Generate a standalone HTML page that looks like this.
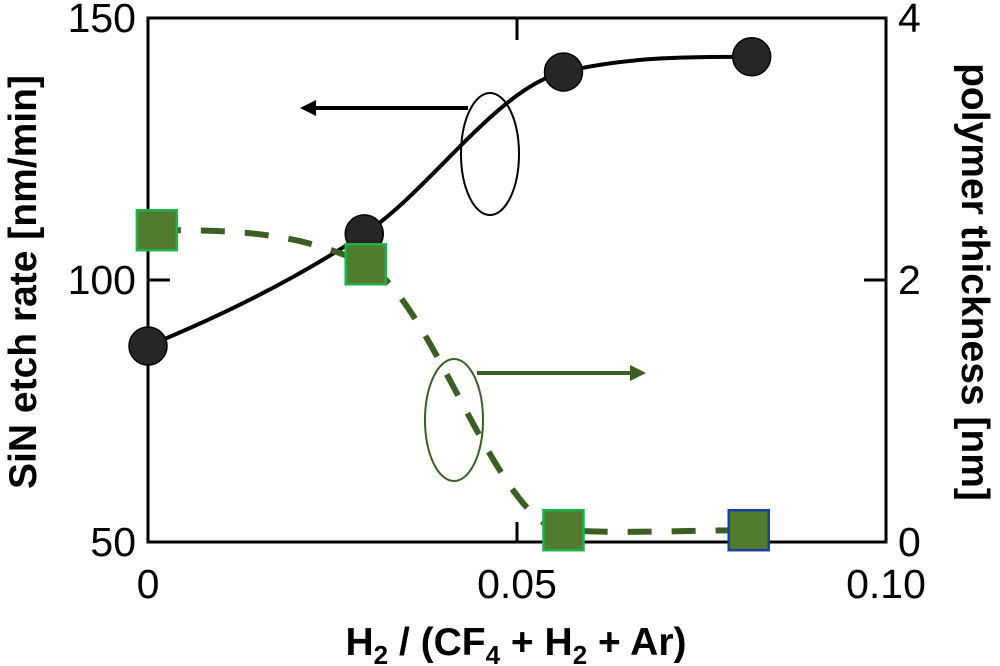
<!DOCTYPE html>
<html><head><meta charset="utf-8"><style>
body{margin:0;background:#fff}
svg{display:block;font-family:"Liberation Sans",Arial,sans-serif}
</style></head><body>
<svg id="c" width="1000" height="666" viewBox="0 0 1000 666"></svg>
<script>
const xValues=[0.0,0.0293,0.0563,0.0818];
const etchRate=[87.4,108.8,139.7,142.6];
const sqX=[0.0012,0.0295,0.0563,0.0814];
const polymer=[2.38,2.12,0.09,0.09];
const xTicks=[0,0.05,0.10];
const xTickLabels=["0","0.05","0.10"];
const yTicks=[50,100,150];
const yTickLabels=["50","100","150"];
const y2Ticks=[0,2,4];
const y2TickLabels=["0","2","4"];

const L=148,R=886,T=18,B=542;
const sx=v=>L+(v/0.1)*(R-L);
const sy=v=>B-(v-50)/100*(B-T);
const sy2=v=>B-v/4*(B-T);
const svg=document.getElementById('c');
const NS='http://www.w3.org/2000/svg';
function mk(t,a,p){const e=document.createElementNS(NS,t);for(const k in a)e.setAttribute(k,a[k]);(p||svg).appendChild(e);return e;}
function smooth(pts,startFrac){
 const n=pts.length,d=[],m=[];
 for(let i=0;i<n-1;i++)d.push((pts[i+1][1]-pts[i][1])/(pts[i+1][0]-pts[i][0]));
 m[0]=d[0]*startFrac;m[n-1]=0;
 for(let i=1;i<n-1;i++){
  let c=(pts[i+1][1]-pts[i-1][1])/(pts[i+1][0]-pts[i-1][0]);
  if(d[i-1]*d[i]<0)c=0;
  const lim=3*Math.max(Math.min(Math.abs(d[i-1]),Math.abs(d[i])),0.02);
  if(Math.abs(c)>lim)c=Math.sign(c)*lim;
  m[i]=c;}
 let s=`M${pts[0][0]},${pts[0][1]}`;
 for(let i=0;i<n-1;i++){const h=pts[i+1][0]-pts[i][0];
  s+=` C${pts[i][0]+h/3},${pts[i][1]+m[i]*h/3} ${pts[i+1][0]-h/3},${pts[i+1][1]-m[i+1]*h/3} ${pts[i+1][0]},${pts[i+1][1]}`;}
 return s;}

let e;
e=mk('rect',{x:L,y:T,width:R-L,height:B-T,fill:'none',stroke:'#000','stroke-width':3});

xTicks.forEach((v,i)=>{
 e=mk('line',{x1:sx(v),x2:sx(v),y1:B,y2:B-20,stroke:'#000','stroke-width':3});
 
 e=mk('text',{x:sx(v),y:598,'font-size':41,'text-anchor':'middle'});e.textContent=xTickLabels[i];
 
});
e=mk('line',{x1:sx(0.05),x2:sx(0.05),y1:T,y2:T+22,stroke:'#000','stroke-width':3});

yTicks.forEach((v,i)=>{
 e=mk('line',{x1:L,x2:L+22,y1:sy(v),y2:sy(v),stroke:'#000','stroke-width':3});
 
 e=mk('text',{x:136,y:sy(v)+14,'font-size':41,'text-anchor':'end'});e.textContent=yTickLabels[i];
 
});
y2Ticks.forEach((v,i)=>{
 e=mk('line',{x1:R-22,x2:R,y1:sy2(v),y2:sy2(v),stroke:'#000','stroke-width':3});
 
 e=mk('text',{x:898,y:sy2(v)+14,'font-size':41,'text-anchor':'start'});e.textContent=y2TickLabels[i];
 
});
e=mk('text',{x:0,y:0,'font-size':39,'font-weight':'bold','text-anchor':'middle',transform:'translate(36,282) rotate(-90)'});e.textContent='SiN etch rate [nm/min]';

e=mk('text',{x:0,y:0,'font-size':39,'font-weight':'bold','text-anchor':'middle',transform:'translate(962,282) rotate(90)'});e.textContent='polymer thickness [nm]';

e=mk('text',{x:516,y:655,'font-size':39,'font-weight':'bold','text-anchor':'middle'});
e.innerHTML='H<tspan font-size="26" dy="9">2</tspan><tspan dy="-9"> / (CF</tspan><tspan font-size="26" dy="9">4</tspan><tspan dy="-9"> + H</tspan><tspan font-size="26" dy="9">2</tspan><tspan dy="-9"> + Ar)</tspan>';


const cp=xValues.map((x,i)=>[sx(x),sy(etchRate[i])]);
e=mk('path',{d:smooth(cp,0.8),fill:'none',stroke:'#000','stroke-width':4});

const gp=sqX.map((x,i)=>[sx(x),sy2(polymer[i])]);
e=mk('path',{d:smooth(gp,0),fill:'none',stroke:'#3b5e22','stroke-width':6,'stroke-dasharray':'24 20'});


e=mk('ellipse',{cx:490,cy:154,rx:29,ry:61,fill:'none',stroke:'#000','stroke-width':2});

e=mk('line',{x1:468,y1:108,x2:312,y2:108,stroke:'#000','stroke-width':4});

e=mk('polygon',{points:'300,108 316,100 316,116',fill:'#000'});

e=mk('ellipse',{cx:454,cy:420,rx:29,ry:61,fill:'none',stroke:'#3b5e22','stroke-width':2});

e=mk('line',{x1:477,y1:373,x2:632,y2:373,stroke:'#3b5e22','stroke-width':4});

e=mk('polygon',{points:'646,373 630,365 630,381',fill:'#3b5e22'});


xValues.forEach((x,i)=>{
 e=mk('circle',{cx:sx(x),cy:sy(etchRate[i]),r:19,fill:'#262626',stroke:'#000','stroke-width':1.5});
 
});
sqX.forEach((x,i)=>{
 e=mk('rect',{x:sx(x)-20,y:sy2(polymer[i])-20,width:40,height:40,fill:'#527b30',stroke:i===3?'#1a3fa0':'#1fb24a','stroke-width':2.5});
 
});
</script>
</body></html>
